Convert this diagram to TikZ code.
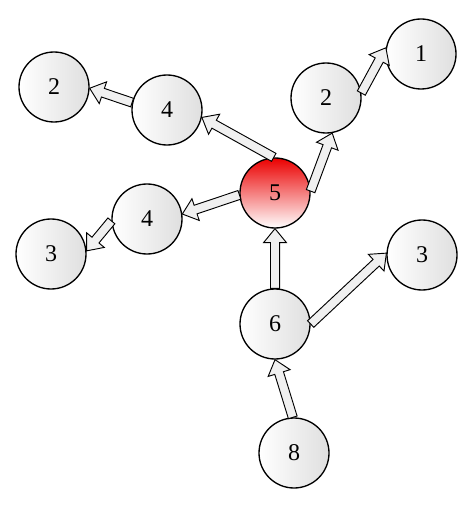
\documentclass[tikz,border=0pt]{standalone}
\usepackage{fontspec}
\setmainfont{Liberation Serif}
\usetikzlibrary{calc}

\newcommand{\bigarrow}[2]{%
  \coordinate (hb) at ($(#2)!10.5pt!(#1)$);
  \draw[arrowbody] ($(#1)!3.4pt!90:(#2)$) -- ($(hb)!3.4pt!90:(#2)$)
    -- ($(hb)!8.6pt!90:(#2)$) -- (#2) -- ($(hb)!8.6pt!-90:(#2)$)
    -- ($(hb)!3.4pt!-90:(#2)$) -- ($(#1)!3.4pt!-90:(#2)$) -- cycle;
}

\begin{document}
\begin{tikzpicture}[x=0.75pt, y=-0.75pt,
  vertex/.style={draw, circle, line width=1pt, minimum size=52.5pt, inner sep=0pt,
    left color=white, right color=gray!25, font=\fontsize{18}{20}\selectfont},
  rootvertex/.style={vertex, top color=red!92!black, bottom color=white},
  arrowbody/.style={draw, fill=gray!12, line width=0.7pt, line join=miter}]

\useasboundingbox (0,0) rectangle (474,505);

\node[vertex] (n1) at (421,54) {1};
\node[vertex] (n2a) at (326,98) {2};
\node[vertex] (n2b) at (54,87) {2};
\node[vertex] (n4a) at (167,110) {4};
\node[rootvertex] (n5) at (275,193) {5};
\node[vertex] (n4b) at (147,219) {4};
\node[vertex] (n3a) at (51,254) {3};
\node[vertex] (n3b) at (422,255) {3};
\node[vertex] (n6) at (275,324) {6};
\node[vertex] (n8) at (294,453) {8};

\bigarrow{n5.92}{n4a.-12}
\bigarrow{n5.3}{n2a.-80}
\bigarrow{n2a.8}{n1.170}
\bigarrow{n4a.168}{n2b.-2}
\bigarrow{n5.183}{n4b.8}
\bigarrow{n4b.183}{n3a.5}
\bigarrow{n6.90}{n5.-90}
\bigarrow{n6.0}{n3b.177}
\bigarrow{n8.92}{n6.-90}

\end{tikzpicture}
\end{document}
